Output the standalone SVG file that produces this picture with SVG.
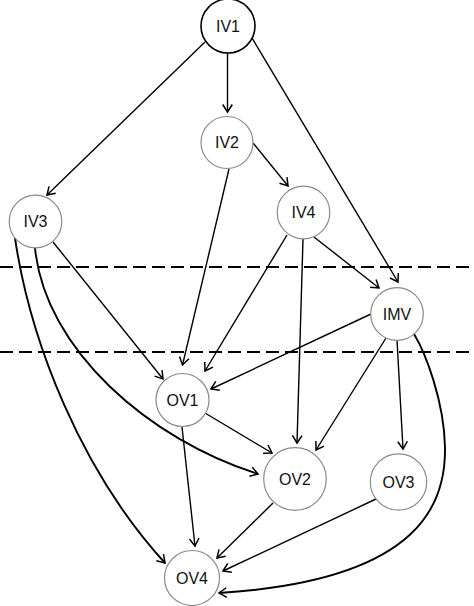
<svg xmlns="http://www.w3.org/2000/svg" width="474" height="606" viewBox="0 0 474 606">
<style>
.node{fill:#fff;stroke:#8a8a8a;stroke-width:1.2}
.root{fill:#fff;stroke:#000;stroke-width:1.6}
.lbl{font-family:"Liberation Sans",Arial,sans-serif;font-size:16px;fill:#111;text-anchor:middle;dominant-baseline:central}
.e{fill:none;stroke:#000;stroke-width:1.4;marker-end:url(#arr)}
.c{fill:none;stroke:#000;stroke-width:1.9;marker-end:url(#arr)}
.dash{stroke:#000;stroke-width:2;stroke-dasharray:13,6}
</style>
<defs>
<marker id="arr" markerUnits="userSpaceOnUse" markerWidth="20" markerHeight="20" viewBox="-10 -10 20 20" refX="0" refY="0" orient="auto">
<path d="M-7.5,-4.8 L0,0 L-7.5,4.8" fill="none" stroke="#000" stroke-width="1.5"/>
</marker>
</defs>
<rect width="474" height="606" fill="#fff"/>
<g id="separators">
<line class="dash" x1="0" y1="267" x2="474" y2="267"/>
<line class="dash" x1="0" y1="352" x2="474" y2="352"/>
</g>
<g id="connectors">
<path class="e" d="M205,42 L47,195"/>
<path class="e" d="M227.5,53 L227.5,112"/>
<path class="e" d="M252,38 L398,282"/>
<path class="e" d="M253,143 L288,186"/>
<path class="e" d="M229,169 L182.5,365"/>
<path class="e" d="M53,242 L163,379"/>
<path class="e" d="M287,235 L205,371"/>
<path class="e" d="M314,237 L379,288"/>
<path class="e" d="M303,239 L297,443"/>
<path class="e" d="M371,314 L211,389"/>
<path class="e" d="M386,338 L316,450"/>
<path class="e" d="M397,340 L403,449"/>
<path class="c" d="M414,334 C425,352 444,400 445,447 C446,500 425,580 219,593"/>
<path class="c" d="M35,248 C45,350 150,440 258,474"/>
<path class="c" d="M15,238 C30,340 80,470 165,563"/>
<path class="e" d="M205,413 L272,453"/>
<path class="e" d="M182,427 L195,546"/>
<path class="e" d="M273,503 L217,558"/>
<path class="e" d="M376,499 L223,571"/>
</g>
<g id="IV1"><circle class="root" cx="228" cy="26" r="27"/><text class="lbl" x="228" y="26">IV1</text></g>
<g id="IV2"><circle class="node" cx="227" cy="142.5" r="26"/><text class="lbl" x="227" y="142.5">IV2</text></g>
<g id="IV3"><circle class="node" cx="35.5" cy="221.5" r="26.3"/><text class="lbl" x="35.5" y="221.5">IV3</text></g>
<g id="IV4"><circle class="node" cx="303.5" cy="212.5" r="26.3"/><text class="lbl" x="303.5" y="212.5">IV4</text></g>
<g id="IMV"><circle class="node" cx="397" cy="314" r="26.3"/><text class="lbl" x="397" y="314">IMV</text></g>
<g id="OV1"><circle class="node" cx="182.5" cy="400" r="26.5"/><text class="lbl" x="182.5" y="400">OV1</text></g>
<g id="OV2"><circle class="node" cx="295" cy="479" r="31.3"/><text class="lbl" x="295" y="479">OV2</text></g>
<g id="OV3"><circle class="node" cx="398.5" cy="482" r="28.2"/><text class="lbl" x="398.5" y="482">OV3</text></g>
<g id="OV4"><circle class="node" cx="192" cy="578" r="27.5"/><text class="lbl" x="192" y="578">OV4</text></g>
</svg>
